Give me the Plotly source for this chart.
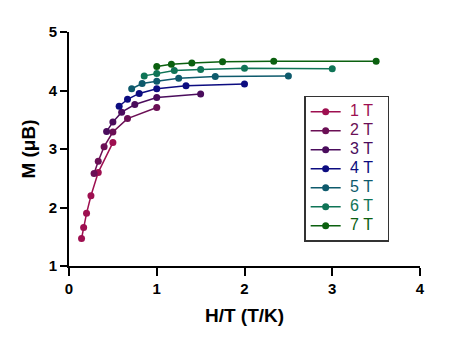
import plotly.graph_objects as go

temps = [2, 3, 4, 5, 6, 7]  # K
fields = [1, 2, 3, 4, 5, 6, 7]  # T
names = ["1 T", "2 T", "3 T", "4 T", "5 T", "6 T", "7 T"]
colors = ["#9e0f50", "#6b0f55", "#4a0c5c", "#0c0c80", "#0e5a6c", "#0f7456", "#0b600f"]

# H/T values (T/K)
x_1T = [1/7, 1/6, 1/5, 1/4, 1/3, 1/2]
x_2T = [2/7, 2/6, 2/5, 2/4, 2/3, 2/2]
x_3T = [3/7, 3/6, 3/5, 3/4, 3/3, 3/2]
x_4T = [4/7, 4/6, 4/5, 4/4, 4/3, 4/2]
x_5T = [5/7, 5/6, 5/5, 5/4, 5/3, 5/2]
x_6T = [6/7, 6/6, 6/5, 6/4, 6/3, 6/2]
x_7T = [7/7, 7/6, 7/5, 7/4, 7/3, 7/2]

# M values (muB)
m_1T = [1.47, 1.66, 1.90, 2.20, 2.60, 3.11]
m_2T = [2.58, 2.79, 3.04, 3.29, 3.52, 3.71]
m_3T = [3.30, 3.46, 3.63, 3.76, 3.88, 3.94]
m_4T = [3.73, 3.85, 3.95, 4.03, 4.08, 4.11]
m_5T = [4.03, 4.12, 4.16, 4.21, 4.24, 4.25]
m_6T = [4.25, 4.29, 4.34, 4.36, 4.38, 4.37]
m_7T = [4.41, 4.45, 4.47, 4.49, 4.50, 4.50]

xs = [x_1T, x_2T, x_3T, x_4T, x_5T, x_6T, x_7T]
ms = [m_1T, m_2T, m_3T, m_4T, m_5T, m_6T, m_7T]

x_ticks = [0, 1, 2, 3, 4]
y_ticks = [1, 2, 3, 4, 5]

fig = go.Figure()
for name, c, x, m in zip(names, colors, xs, ms):
    fig.add_trace(go.Scatter(
        x=x, y=m, mode="lines+markers",
        name=f'<span style="color:{c};font-size:16px">&nbsp;{name}&nbsp;&nbsp;</span>',
        line=dict(color=c, width=1.5),
        marker=dict(color=c, size=7),
    ))

axis_font = dict(family="Liberation Sans", size=15, color="black", weight="bold")
title_font = dict(family="Liberation Sans", size=19, color="black", weight="bold")

fig.update_layout(
    width=474, height=345,
    margin=dict(l=69, r=54, t=32, b=79),
    paper_bgcolor="white", plot_bgcolor="white",
    showlegend=True,
    legend=dict(
        x=0.67, y=0.728, xanchor="left", yanchor="top",
        bordercolor="#333333", borderwidth=1.5,
        font=dict(family="Liberation Sans", size=12),
        bgcolor="white",
        itemwidth=30,
    ),
    xaxis=dict(
        range=[0, 4], tickvals=x_ticks, showgrid=False, zeroline=False,
        showline=True, linecolor="black", linewidth=2,
        ticks="outside", ticklen=8, tickwidth=2, tickcolor="black",
        tickfont=axis_font,
        title=dict(text="H/T (T/K)", font=title_font, standoff=13),
    ),
    yaxis=dict(
        range=[1, 5], tickvals=y_ticks, showgrid=False, zeroline=False,
        showline=True, linecolor="black", linewidth=2,
        ticks="outside", ticklen=7, tickwidth=2, tickcolor="black",
        tickfont=axis_font,
        title=dict(text="M (μB)", font=title_font, standoff=8),
    ),
)

fig.write_html("out.html")
